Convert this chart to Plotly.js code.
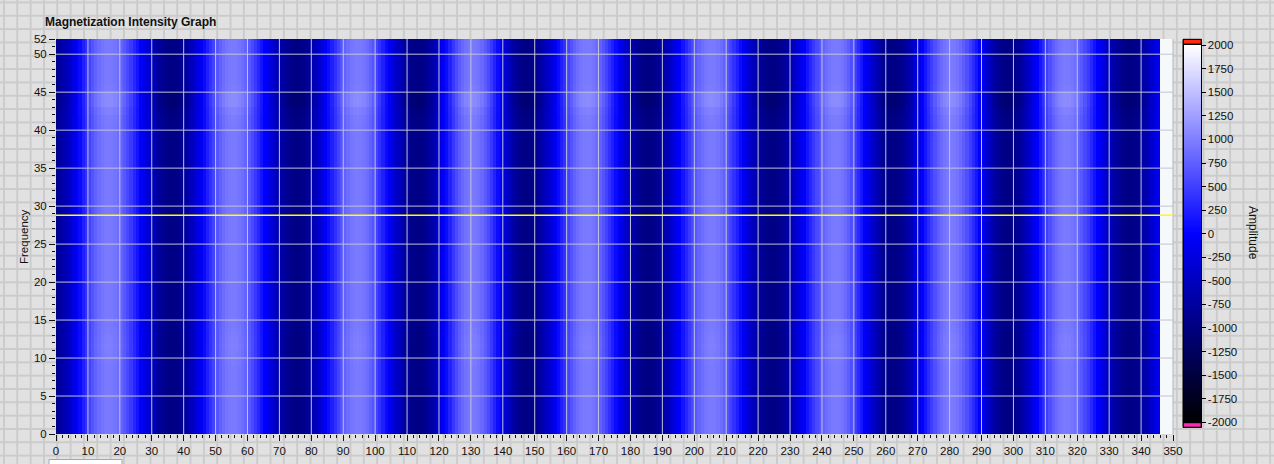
<!DOCTYPE html>
<html>
<head>
<meta charset="utf-8">
<script src="https://cdn.plot.ly/plotly-3.0.1.min.js"></script>
<style>
  html, body { margin:0; padding:0; width:1274px; height:464px; overflow:hidden; }
  body {
    background-color:#e1e1e1;
    background-image:
      linear-gradient(to right, #cbcbcb 1.5px, transparent 1.5px),
      linear-gradient(to bottom, #cbcbcb 1.5px, transparent 1.5px);
    background-size:13.333px 13.333px;
    background-position:3px 1.5px;
  }
  #chart { position:absolute; left:0; top:0; width:1274px; height:464px; }
</style>
</head>
<body>
<div id="chart"></div>
<script>
// ---- data ----
// amplitude of each 1-unit column along the x axis (columns 0..345)
const columnProfile = [
  -879,-789,-677,-546,-402,-245,-83,83,245,402,546,677,789,879,946,986,1000,
  988,951,891,809,707,588,454,309,156,0,-156,-309,-454,-588,-707,-809,-891,-951,-988,-1000,
  -986,-946,-879,-789,-677,-546,-402,-245,-83,83,245,402,546,677,789,879,946,986,1000,
  988,951,891,809,707,588,454,309,156,0,-156,-309,-454,-588,-707,-809,-891,-951,-988,-1000,
  -986,-946,-879,-789,-677,-546,-402,-245,-83,83,245,402,546,677,789,879,946,986,1000,
  986,946,879,789,677,546,402,245,83,-83,-245,-402,-546,-677,-789,-879,-946,-986,-1000,
  -983,-932,-850,-739,-603,-446,-274,-92,92,274,446,603,739,850,932,983,1000,
  983,932,850,739,603,446,274,92,-92,-274,-446,-603,-739,-850,-932,-983,-1000,
  -986,-946,-879,-789,-677,-546,-402,-245,-83,83,245,402,546,677,789,879,946,986,1000,
  986,946,879,789,677,546,402,245,83,-83,-245,-402,-546,-677,-789,-879,-946,-986,-1000,
  -988,-951,-891,-809,-707,-588,-454,-309,-156,0,156,309,454,588,707,809,891,951,988,1000,
  986,946,879,789,677,546,402,245,83,-83,-245,-402,-546,-677,-789,-879,-946,-986,-1000,
  -988,-951,-891,-809,-707,-588,-454,-309,-156,0,156,309,454,588,707,809,891,951,988,1000,
  985,940,866,766,643,500,342,174,0,-174,-342,-500,-643,-766,-866,-940,-985,-1000,
  -985,-940,-866,-766,-643,-500,-342,-174,0,174,342,500,643,766,866,940,985,1000,
  985,940,866,766,643,500,342,174,0,-174,-342,-500,-643,-766,-866,-940,-985,-1000,
  -985,-940,-866,-766,-643,-500,-342,-174,0,174,342,500,643,766,866,940,985,1000,
  988,951,891,809,707,588,454,309,156,0,-156,-309,-454,-588,-707,-809,-891,-951,-988,-1000,
  -986,-946,-879,-789,-677,-546,-402,-245,-83
];
// relative strength of each frequency row (rows 0..51)
const rowGain = [
  0.96,0.96,0.96,0.96,0.96,0.96,0.96,0.96,0.96,0.97,
  0.99,1.00,0.99,0.97,0.96,0.96,0.96,0.96,0.96,0.96,
  0.96,0.96,0.96,0.96,0.96,0.96,0.96,0.96,0.96,0.96,
  0.96,0.96,0.96,0.96,0.96,0.96,0.96,0.96,0.96,0.96,
  0.96,0.97,1.02,1.10,1.10,0.98,0.96,0.96,0.96,0.96,
  0.96,0.96
];
const colorTickVals = [2000,1750,1500,1250,1000,750,500,250,0,-250,-500,-750,-1000,-1250,-1500,-1750,-2000];
const colorTickText = ["2000","1750","1500","1250","1000","750","500","250","0","-250","-500","-750","-1000","-1250","-1500","-1750","-2000"];
const xTickVals = [0,10,20,30,40,50,60,70,80,90,100,110,120,130,140,150,160,170,180,190,200,210,220,230,240,250,260,270,280,290,300,310,320,330,340,350];
const yTickVals = [0,5,10,15,20,25,30,35,40,45,50,52];
const cursorFrequency = 28.8;

// ---- build table ----
const z = rowGain.map(g => columnProfile.map(v => Math.round(v * g)));

// ---- geometry helpers ----
const W = 1274, H = 464, ML = 56, MR = 101, MT = 39, MB = 30;
const PW = W - ML - MR, PH = H - MT - MB;
const px = p => (p - ML) / PW;
const py = p => (H - MB - p) / PH;

const FONT = '"Liberation Sans", Arial, sans-serif';
const gridColor = '#c2c2dc';

const shapes = [];
xTickVals.filter(v => v > 0 && v < 350).forEach(v => shapes.push({
  type:'line', xref:'x', yref:'paper', x0:v, x1:v, y0:0, y1:1,
  line:{color:gridColor, width:1}, layer:'above'
}));
yTickVals.filter(v => v > 0 && v < 52).forEach(v => shapes.push({
  type:'line', xref:'paper', yref:'y', x0:0, x1:1, y0:v, y1:v,
  line:{color:gridColor, width:1}, layer:'above'
}));
// right border of plot area
shapes.push({type:'line', xref:'paper', yref:'paper', x0:1, x1:1, y0:0, y1:1,
  line:{color:'#b4b4c4', width:1}, layer:'above'});
// cursor
shapes.push({type:'line', xref:'paper', yref:'y', x0:0, x1:1, y0:cursorFrequency, y1:cursorFrequency,
  line:{color:'#ffff00', width:1.6}, layer:'above'});
// colour ramp frame and out-of-range markers
shapes.push({type:'rect', xref:'paper', yref:'paper', x0:px(1183), x1:px(1201.5), y0:py(427.5), y1:py(39.3),
  line:{color:'#000', width:1}, fillcolor:'#000', layer:'below'});
shapes.push({type:'rect', xref:'paper', yref:'paper', x0:px(1183.8), x1:px(1200.7), y0:py(43.6), y1:py(40),
  line:{width:0}, fillcolor:'#ff2a14', layer:'above'});
shapes.push({type:'rect', xref:'paper', yref:'paper', x0:px(1183.8), x1:px(1200.7), y0:py(426.7), y1:py(423.2),
  line:{width:0}, fillcolor:'#ff29b4', layer:'above'});
// small box at bottom left
shapes.push({type:'rect', xref:'paper', yref:'paper', x0:px(49), x1:px(122), y0:py(472), y1:py(459.5),
  line:{color:'#a8a8a8', width:1}, fillcolor:'#ffffff', layer:'above'});

const trace = {
  type:'heatmap',
  z: z,
  x0: 0.5, dx: 1,
  y0: 0.5, dy: 1,
  zmin:-2000, zmax:2000,
  colorscale:[[0,'#000000'],[0.5,'#0000ff'],[1,'#ffffff']],
  hoverinfo:'skip',
  colorbar:{
    thickness:17, thicknessmode:'pixels',
    len:377.3, lenmode:'pixels',
    x:px(1183.5), xanchor:'left', xpad:0,
    y:py(233.7), yanchor:'middle', ypad:0,
    outlinewidth:0,
    ticks:'outside', ticklen:5, tickcolor:'#000', tickwidth:1,
    tickvals:colorTickVals, ticktext:colorTickText,
    tickfont:{family:FONT, size:11.5, color:'#111'}
  }
};

const axisCommon = {
  ticks:'outside', tickcolor:'#111', tickwidth:1, ticklen:6,
  showgrid:false, zeroline:false, showline:false,
  tickfont:{family:FONT, size:11.5, color:'#111'},
  fixedrange:true
};

const layout = {
  width:W, height:H,
  margin:{l:ML, r:MR, t:MT, b:MB, pad:0},
  paper_bgcolor:'rgba(0,0,0,0)',
  plot_bgcolor:'#f5f9fa',
  title:{text:'Magnetization Intensity Graph', x:45/W, xref:'container', xanchor:'left',
         y:1-22/H, yref:'container', yanchor:'middle',
         font:{family:FONT, size:12, weight:'bold', color:'#111'}},
  xaxis:Object.assign({}, axisCommon, {
    range:[0,350], tickmode:'array', tickvals:xTickVals, ticktext:xTickVals.map(String),
    minor:{dtick:2, tick0:0, ticks:'outside', ticklen:3, tickcolor:'#111', tickwidth:1}
  }),
  yaxis:Object.assign({}, axisCommon, {
    range:[0,52], tickmode:'array', tickvals:yTickVals, ticktext:yTickVals.map(String),
    minor:{dtick:1, tick0:0, ticks:'outside', ticklen:3, tickcolor:'#111', tickwidth:1}
  }),
  shapes:shapes,
  annotations:[
    {text:'Frequency', xref:'paper', yref:'paper', x:px(23.5), y:0.5, xanchor:'center', yanchor:'middle',
     textangle:-90, showarrow:false, font:{family:FONT, size:11.5, color:'#111'}},
    {text:'Amplitude', xref:'paper', yref:'paper', x:px(1253), y:py(233), xanchor:'center', yanchor:'middle',
     textangle:90, showarrow:false, font:{family:FONT, size:12, color:'#111'}}
  ]
};

Plotly.newPlot('chart', [trace], layout, {displayModeBar:false, staticPlot:true});
</script>
</body>
</html>
